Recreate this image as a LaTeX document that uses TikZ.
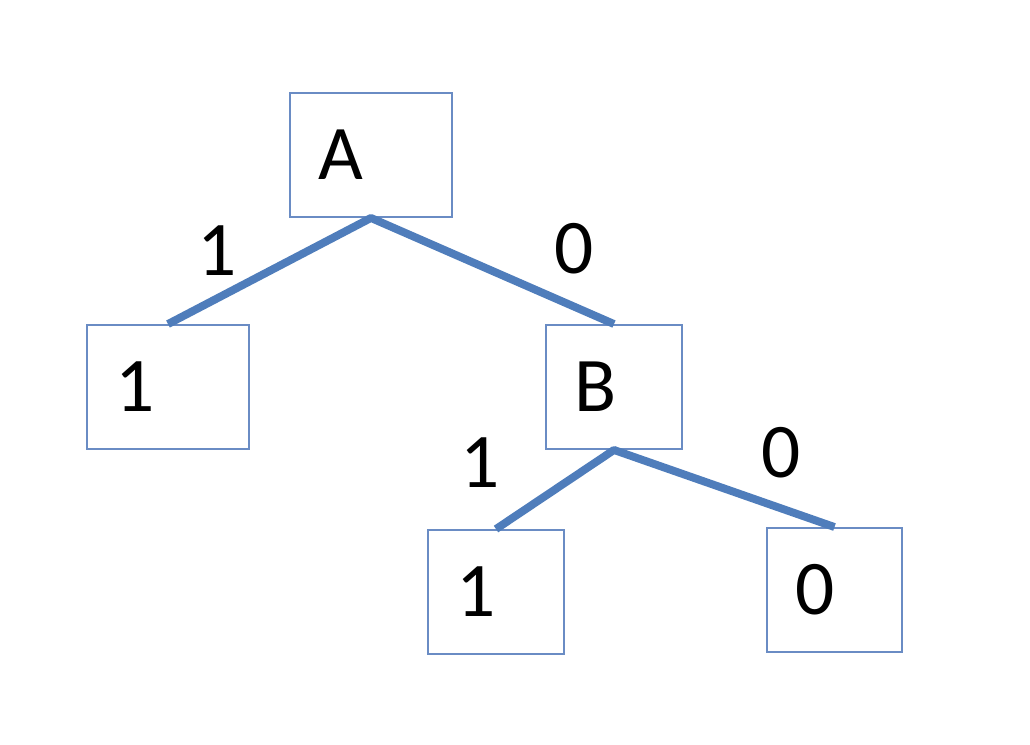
\documentclass[tikz,border=0pt]{standalone}
\usepackage{fontspec}
\setmainfont{Carlito}
\definecolor{boxblue}{HTML}{6A8CC4}
\definecolor{branchblue}{HTML}{4F7DBB}

\begin{document}
\begin{tikzpicture}[
  treebox/.style = {draw = boxblue, line width = 1.1pt, inner xsep = 0.57cm,
    inner ysep = 0pt, minimum height = 2.48cm, align = left,
    font = \fontsize{44}{52}\selectfont},
  branch/.style = {draw = branchblue, line width = 4.5pt, line join = round},
  bitlabel/.style = {inner sep = 0pt, font = \fontsize{44}{52}\selectfont}
]
  \useasboundingbox (0, 0) rectangle (20.6cm, 14.88cm);
  % boxes of the tree
  \node[treebox, text width = 2.10cm] (a) at (7.42, 11.78) {A};
  \node[treebox, text width = 2.10cm] (leafl) at (3.36, 7.14) {1};
  \node[treebox, text width = 1.58cm] (b) at (12.28, 7.14) {B};
  \node[treebox, text width = 1.58cm] (leafbl) at (9.92, 3.04) {1};
  \node[treebox, text width = 1.56cm] (leafbr) at (16.69, 3.08) {0};
  % branches
  \draw[branch] (leafl.north) -- (a.south) -- (b.north);
  \draw[branch] (leafbl.north) -- (b.south) -- (leafbr.north);
  % branch labels
  \node[bitlabel] (al) at (4.34, 9.86) {1};
  \node[bitlabel] (ar) at (11.48, 9.90) {0};
  \node[bitlabel] (bl) at (9.60, 5.62) {1};
  \node[bitlabel] (br) at (15.62, 5.82) {0};
\end{tikzpicture}
\end{document}
